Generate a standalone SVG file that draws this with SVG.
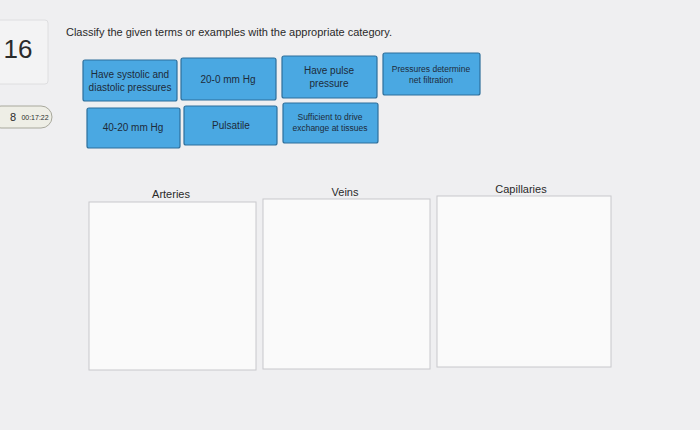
<svg xmlns="http://www.w3.org/2000/svg" width="700" height="430" viewBox="0 0 700 430">
<style>
text{font-family:"Liberation Sans",Arial,sans-serif;fill:#2a2a2a}
.t rect{fill:#4aa8e2;stroke:#2d6f9c;stroke-width:1.2}
.t text{font-size:10px;text-anchor:middle;fill:#1d2b3a}
.z rect{fill:#fafafa;stroke:#c8c8cc;stroke-width:1}
.z text{font-size:11px;text-anchor:middle}
</style>
<rect width="700" height="430" fill="#efeff1"/>
<rect x="-5" y="20" width="53" height="64" rx="3" fill="#f3f3f4" stroke="#dedee0"/>
<text x="18" y="58" font-size="26" text-anchor="middle" fill="#333">16</text>
<g id="timer"><rect x="-10" y="106" width="62" height="22" rx="11" fill="#eeeee6" stroke="#a8a89c"/>
<text x="10" y="121" font-size="11" fill="#666">8</text><text x="35" y="120" font-size="7" text-anchor="middle">00:17:22</text></g>
<text x="66" y="36" font-size="11" textLength="326">Classify the given terms or examples with the appropriate category.</text>
<g class="t" id="n1"><rect x="83" y="60" width="94" height="41" rx="2"/><text x="130" y="78">Have systolic and</text><text x="130" y="91">diastolic pressures</text></g>
<g class="t" id="n2"><rect x="181" y="58" width="95" height="42" rx="2"/><text x="228" y="83">20-0 mm Hg</text></g>
<g class="t" id="n3"><rect x="282" y="56" width="95" height="42" rx="2"/><text x="329" y="74">Have pulse</text><text x="329" y="87">pressure</text></g>
<g class="t" id="n4"><rect x="383" y="53" width="97" height="42" rx="2"/><text x="431" y="72" style="font-size:8.5px">Pressures determine</text><text x="431" y="83" style="font-size:8.5px">net filtration</text></g>
<g class="t" id="n5"><rect x="87" y="108" width="93" height="40" rx="2"/><text x="133" y="131">40-20 mm Hg</text></g>
<g class="t" id="n6"><rect x="184" y="106" width="93" height="39" rx="2"/><text x="231" y="129">Pulsatile</text></g>
<g class="t" id="n7"><rect x="283" y="103" width="95" height="40" rx="2"/><text x="330" y="120" style="font-size:8.5px">Sufficient to drive</text><text x="330" y="131" style="font-size:8.5px">exchange at tissues</text></g>
<g class="z" id="arteries"><text x="171" y="198">Arteries</text><rect x="89" y="202" width="167" height="168"/></g>
<g class="z" id="veins"><text x="345" y="196">Veins</text><rect x="263" y="199" width="167" height="170"/></g>
<g class="z" id="capillaries"><text x="521" y="193">Capillaries</text><rect x="437" y="196" width="174" height="171"/></g>
<g id="connectors"/>
</svg>
